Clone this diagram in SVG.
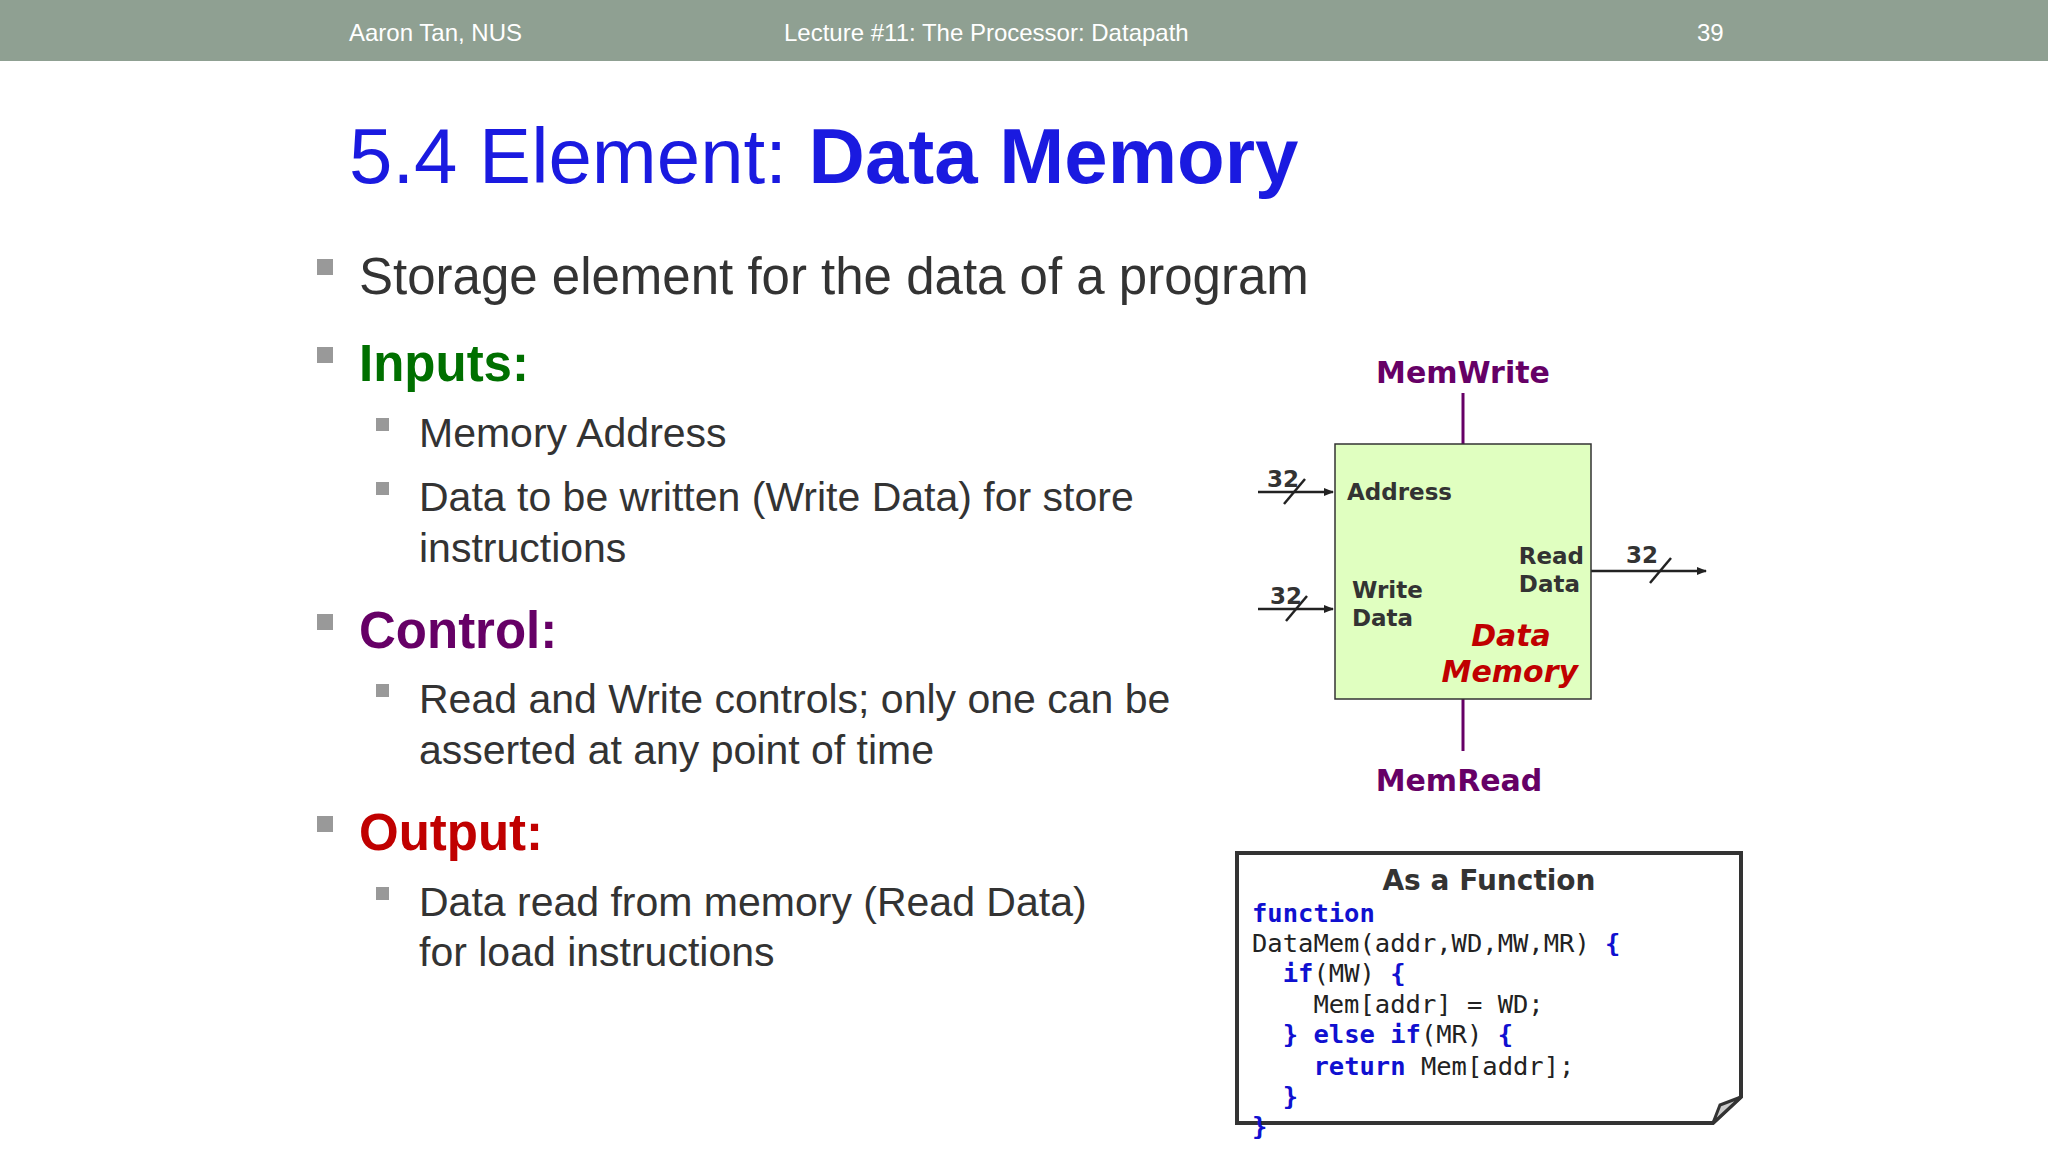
<svg xmlns="http://www.w3.org/2000/svg" width="2048" height="1152" viewBox="0 0 2048 1152">
<defs>
<marker id="ah" markerWidth="10" markerHeight="8" refX="9" refY="4" orient="auto" markerUnits="userSpaceOnUse"><path d="M0,0 L10,4 L0,8 z" fill="#222"/></marker>
</defs>
<style>
.hdr{font-family:"Liberation Sans",Arial,sans-serif;font-size:24px;fill:#fff}
.b1{font-family:"Liberation Sans",Arial,sans-serif;font-size:51px;fill:#333}
.b2{font-family:"Liberation Sans",Arial,sans-serif;font-size:41px;fill:#333}
.hd{font-family:"Liberation Sans",Arial,sans-serif;font-size:51px;font-weight:bold}
.sq1{fill:#999}
.lbl{font-family:"DejaVu Sans",Verdana,sans-serif;font-size:23px;font-weight:bold;fill:#333}
.sig{font-family:"DejaVu Sans",Verdana,sans-serif;font-size:30px;font-weight:bold;fill:#660066}
.code{font-family:"DejaVu Sans Mono",monospace;font-size:25.5px;fill:#222;white-space:pre}
.kw{fill:#1010d0;font-weight:bold}
.wire{stroke:#222;stroke-width:2.5;fill:none}
</style>
<rect x="0" y="0" width="2048" height="61" fill="#8fa092"/>
<text class="hdr" x="349" y="41">Aaron Tan, NUS</text>
<text class="hdr" x="784" y="41">Lecture #11: The Processor: Datapath</text>
<text class="hdr" x="1697" y="41">39</text>
<text x="349" y="183" font-family="Liberation Sans,Arial,sans-serif" font-size="78" fill="#1a1ae0">5.4 Element: <tspan font-weight="bold">Data Memory</tspan></text>
<rect class="sq1" x="317" y="259" width="16" height="16"/>
<text class="b1" x="359" y="294">Storage element for the data of a program</text>
<rect class="sq1" x="317" y="347" width="16" height="16"/>
<text class="hd" x="359" y="381" fill="#007000">Inputs:</text>
<rect class="sq1" x="376" y="418" width="13" height="13"/>
<text class="b2" x="419" y="447">Memory Address</text>
<rect class="sq1" x="376" y="482" width="13" height="13"/>
<text class="b2" x="419" y="511">Data to be written (Write Data) for store</text>
<text class="b2" x="419" y="562">instructions</text>
<rect class="sq1" x="317" y="614" width="16" height="16"/>
<text class="hd" x="359" y="648" fill="#660066">Control:</text>
<rect class="sq1" x="376" y="684" width="13" height="13"/>
<text class="b2" x="419" y="713">Read and Write controls; only one can be</text>
<text class="b2" x="419" y="764">asserted at any point of time</text>
<rect class="sq1" x="317" y="816" width="16" height="16"/>
<text class="hd" x="359" y="850" fill="#c00000">Output:</text>
<rect class="sq1" x="376" y="887" width="13" height="13"/>
<text class="b2" x="419" y="916">Data read from memory (Read Data)</text>
<text class="b2" x="419" y="966">for load instructions</text>

<g id="connectors">
<line x1="1463" y1="393" x2="1463" y2="444" stroke="#660066" stroke-width="3"/>
<line x1="1463" y1="699" x2="1463" y2="751" stroke="#660066" stroke-width="3"/>
<line class="wire" x1="1258" y1="492" x2="1333" y2="492" marker-end="url(#ah)"/>
<line class="wire" x1="1284" y1="504" x2="1305" y2="479"/>
<line class="wire" x1="1258" y1="609" x2="1333" y2="609" marker-end="url(#ah)"/>
<line class="wire" x1="1286" y1="621" x2="1307" y2="596"/>
<line class="wire" x1="1591" y1="571" x2="1706" y2="571" marker-end="url(#ah)"/>
<line class="wire" x1="1650" y1="583" x2="1671" y2="558"/>
<text class="lbl" x="1267" y="487">32</text>
<text class="lbl" x="1270" y="604">32</text>
<text class="lbl" x="1626" y="563">32</text>
</g>
<g id="memwrite"><text class="sig" x="1463" y="383" text-anchor="middle">MemWrite</text></g>
<g id="memread"><text class="sig" x="1459" y="791" text-anchor="middle">MemRead</text></g>
<g id="datamem">
<rect x="1335" y="444" width="256" height="255" fill="#e0ffc0" stroke="#333" stroke-width="1.5"/>
<text class="lbl" x="1347" y="500">Address</text>
<text class="lbl" x="1352" y="598">Write</text>
<text class="lbl" x="1352" y="626">Data</text>
<text class="lbl" x="1584" y="564" text-anchor="end">Read</text>
<text class="lbl" x="1580" y="592" text-anchor="end">Data</text>
<text x="1511" y="646" text-anchor="middle" font-family="DejaVu Sans,Verdana,sans-serif" font-size="30" font-weight="bold" font-style="italic" fill="#c00000">Data</text>
<text x="1578" y="682" text-anchor="end" font-family="DejaVu Sans,Verdana,sans-serif" font-size="30" font-weight="bold" font-style="italic" fill="#c00000">Memory</text>
</g>
<g id="function">
<path d="M1237,853 H1741 V1097 L1713,1123 H1237 Z" fill="#fff" stroke="#333" stroke-width="4"/>
<path d="M1713,1123 L1720,1105 L1741,1097 Z" fill="#ccc" stroke="#333" stroke-width="3"/>
<text x="1489" y="890" text-anchor="middle" font-family="DejaVu Sans,Verdana,sans-serif" font-size="28" font-weight="bold" fill="#333">As a Function</text>
<text class="code" x="1252" y="922"><tspan class="kw">function</tspan></text>
<text class="code" x="1252" y="952">DataMem(addr,WD,MW,MR) <tspan class="kw">{</tspan></text>
<text class="code" x="1252" y="982">  <tspan class="kw">if</tspan>(MW) <tspan class="kw">{</tspan></text>
<text class="code" x="1252" y="1013">    Mem[addr] = WD;</text>
<text class="code" x="1252" y="1043">  <tspan class="kw">} else if</tspan>(MR) <tspan class="kw">{</tspan></text>
<text class="code" x="1252" y="1075">    <tspan class="kw">return</tspan> Mem[addr];</text>
<text class="code" x="1252" y="1105">  <tspan class="kw">}</tspan></text>
<text class="code" x="1252" y="1135"><tspan class="kw">}</tspan></text>
</g>
</svg>
